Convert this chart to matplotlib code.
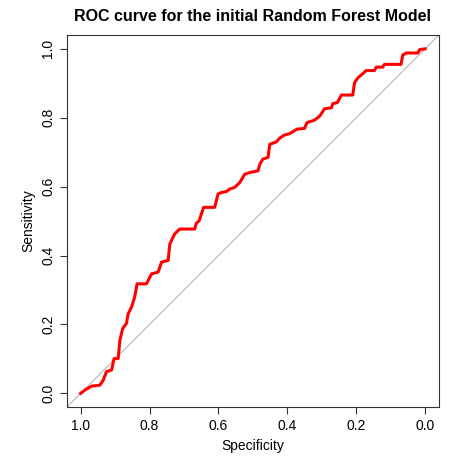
import matplotlib
matplotlib.use("Agg")
import matplotlib.pyplot as plt

plt.rcParams['font.family'] = ['Liberation Sans', 'DejaVu Sans']

specificity = [1.000,0.987,0.968,0.944,0.934,0.925,0.910,0.903,0.891,0.886,0.878,0.867,0.862,0.852,0.843,0.836,
               0.809,0.794,0.775,0.765,0.746,0.741,0.727,0.712,0.669,0.664,0.656,0.643,0.611,0.601,0.591,0.577,
               0.567,0.553,0.538,0.524,0.509,0.485,0.480,0.471,0.456,0.451,0.432,0.422,0.408,0.393,0.372,0.350,
               0.343,0.321,0.306,0.292,0.272,0.268,0.255,0.243,0.210,0.205,0.195,0.171,0.147,0.142,0.123,0.118,
               0.070,0.065,0.055,0.021,0.016,0.000]
sensitivity = [0.000,0.010,0.021,0.024,0.039,0.063,0.068,0.101,0.101,0.154,0.188,0.203,0.231,0.251,0.280,0.318,
               0.318,0.347,0.352,0.381,0.386,0.434,0.463,0.477,0.477,0.494,0.501,0.540,0.540,0.579,0.583,0.586,
               0.593,0.598,0.612,0.636,0.641,0.646,0.665,0.680,0.685,0.723,0.730,0.741,0.750,0.754,0.767,0.769,
               0.786,0.793,0.805,0.826,0.829,0.841,0.844,0.866,0.866,0.902,0.916,0.937,0.937,0.947,0.947,0.955,
               0.955,0.982,0.988,0.988,0.998,1.000]
ticks = [1.0, 0.8, 0.6, 0.4, 0.2, 0.0]

fig = plt.figure(figsize=(4.74, 4.74), dpi=100)
ax = fig.add_axes([0.141, 0.141, 0.785, 0.785])
ax.plot([1.2, -0.2], [-0.2, 1.2], color='#bebebe', lw=0.9)
ax.plot(specificity, sensitivity, color='red', lw=2.2, solid_joinstyle='round')
ax.set_xlim(1.04, -0.04)
ax.set_ylim(-0.04, 1.04)
ax.set_xticks(ticks)
ax.set_xticklabels([f"{t:.1f}" for t in ticks])
ax.set_yticks(ticks)
ax.set_yticklabels([f"{t:.1f}" for t in ticks], rotation=90, va='center')
ax.tick_params(labelsize=10, length=5, color='#333333')
ax.set_xlabel('Specificity', fontsize=10)
ax.set_ylabel('Sensitivity', fontsize=10)
ax.set_title('ROC curve for the initial Random Forest Model', fontsize=11.5, fontweight='bold', pad=10)
for s in ax.spines.values():
    s.set_color('#333333')
fig.savefig('out.png', dpi=100)
